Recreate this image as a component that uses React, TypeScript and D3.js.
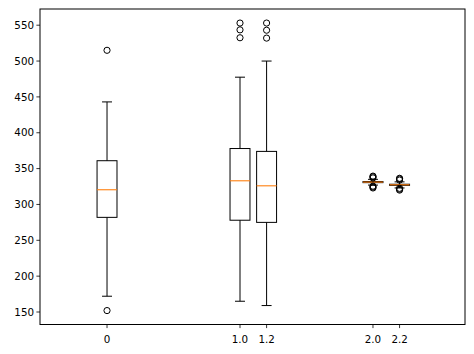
import React from "react";
import * as d3 from "d3";

const positions = [0, 1.0, 1.2, 2.0, 2.2];
const tickLabels = ["0", "1.0", "1.2", "2.0", "2.2"];
const whiskerLow = [172, 165, 159, 327, 323];
const q1 = [282, 278, 275, 330.4, 326.6];
const median = [320.5, 333, 326, 331.2, 327.4];
const q3 = [361, 378, 374, 332, 328.2];
const whiskerHigh = [443, 477.5, 500, 335, 331.5];
const outliers = [
  [515, 152],
  [532.5, 543.5, 553],
  [532, 543, 553],
  [337, 338.5, 339.5, 323, 324.3, 325.5],
  [334, 335.5, 336.5, 320, 321.2, 322.5],
];
const yTicks = [150, 200, 250, 300, 350, 400, 450, 500, 550];

const W = 474;
const H = 354;
const left = 40;
const right = 465;
const top = 9;
const bottom = 324.5;
const boxWidth = 0.15;

export default function App() {
  const x = d3.scaleLinear().domain([-0.504, 2.692]).range([left, right]);
  const y = d3.scaleLinear().domain([150, 550]).range([312, 25.2]);
  const hw = (x(boxWidth) - x(0)) / 2;
  const font = "'DejaVu Sans', sans-serif";
  return (
    <svg width={W} height={H} style={{ position: "absolute", left: 0, top: 0, background: "#fff" }}>
      <rect x={0} y={0} width={W} height={H} fill="#fff" />
      {positions.map((p, i) => {
        const cx = x(p);
        return (
          <g key={i}>
            <line x1={cx} x2={cx} y1={y(q3[i])} y2={y(whiskerHigh[i])} stroke="#000" strokeWidth={1} />
            <line x1={cx} x2={cx} y1={y(q1[i])} y2={y(whiskerLow[i])} stroke="#000" strokeWidth={1} />
            <line x1={cx - hw / 2} x2={cx + hw / 2} y1={y(whiskerHigh[i])} y2={y(whiskerHigh[i])} stroke="#000" strokeWidth={1} />
            <line x1={cx - hw / 2} x2={cx + hw / 2} y1={y(whiskerLow[i])} y2={y(whiskerLow[i])} stroke="#000" strokeWidth={1} />
            <rect x={cx - hw} y={y(q3[i])} width={2 * hw} height={y(q1[i]) - y(q3[i])} fill="none" stroke="#000" strokeWidth={1} />
            <line x1={cx - hw} x2={cx + hw} y1={y(median[i])} y2={y(median[i])} stroke="#ff7f0e" strokeWidth={1.1} />
            {outliers[i].map((v, j) => (
              <circle key={j} cx={cx} cy={y(v)} r={3.1} fill="none" stroke="#000" strokeWidth={1} />
            ))}
          </g>
        );
      })}
      <rect x={left} y={top} width={right - left} height={bottom - top} fill="none" stroke="#000" strokeWidth={1} />
      {yTicks.map((t) => (
        <g key={t}>
          <line x1={left - 3.6} x2={left} y1={y(t)} y2={y(t)} stroke="#000" strokeWidth={0.8} />
          <text x={left - 6} y={y(t)} dy="0.35em" textAnchor="end" fontFamily={font} fontSize={10.3} fill="#000">
            {t}
          </text>
        </g>
      ))}
      {positions.map((p, i) => (
        <g key={"xt" + i}>
          <line x1={x(p)} x2={x(p)} y1={bottom} y2={bottom + 3.6} stroke="#000" strokeWidth={0.8} />
          <text x={x(p)} y={bottom + 18.5} textAnchor="middle" fontFamily={font} fontSize={10.3} fill="#000">
            {tickLabels[i]}
          </text>
        </g>
      ))}
    </svg>
  );
}
